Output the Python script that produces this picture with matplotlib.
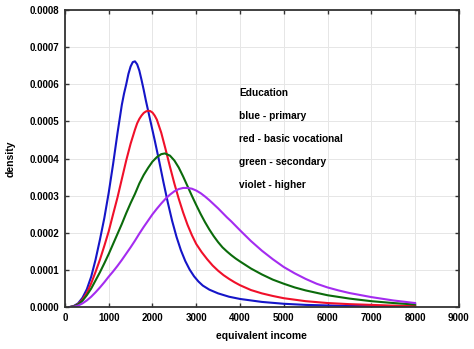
import matplotlib
matplotlib.use('Agg')
import matplotlib.pyplot as plt

plt.rcParams['font.family'] = ['Liberation Sans', 'DejaVu Sans']

# income grid and densities per education level
blue_x = [100, 200, 300, 400, 500, 600, 700, 800, 900, 1000, 1100, 1200, 1300, 1350, 1400,
          1450, 1500, 1550, 1600, 1650, 1700, 1750, 1800, 1850, 1950, 2050, 2150, 2250, 2350,
          2450, 2550, 2650, 2750, 2850, 2950, 3050, 3150, 3300, 3500, 3750, 4000, 4500, 5000,
          5500, 6500, 8000]
blue_y = [0, 0.000003, 0.000010, 0.000025, 0.000048, 0.000082, 0.000128, 0.000182, 0.000240,
          0.000308, 0.000385, 0.000468, 0.000545, 0.000575, 0.000600, 0.000628, 0.000648,
          0.000660, 0.000662, 0.000654, 0.000637, 0.000612, 0.000585, 0.000556, 0.000503,
          0.000450, 0.000395, 0.000337, 0.000282, 0.000232, 0.000189, 0.000153, 0.000124,
          0.000101, 0.000083, 0.000069, 0.000058, 0.000047, 0.000037, 0.000028, 0.000022,
          0.000014, 0.000009, 0.000006, 0.000003, 0.000001]

red_x = [100, 200, 300, 400, 500, 600, 700, 800, 900, 1000, 1100, 1200, 1300, 1400, 1500,
         1600, 1650, 1700, 1750, 1800, 1850, 1900, 1950, 2000, 2050, 2100, 2200, 2300, 2400,
         2500, 2600, 2700, 2800, 2900, 3000, 3125, 3250, 3375, 3500, 3625, 3750, 3875, 4000,
         4250, 4500, 4750, 5000, 5500, 6000, 6500, 7000, 7500, 8000]
red_y = [0, 0.000002, 0.000008, 0.000020, 0.000038, 0.000064, 0.000095, 0.000128, 0.000165,
         0.000204, 0.000250, 0.000295, 0.000345, 0.000395, 0.000440, 0.000478, 0.000495,
         0.000507, 0.000516, 0.000523, 0.000527, 0.000529, 0.000528, 0.000524, 0.000516,
         0.000505, 0.000470, 0.000425, 0.000378, 0.000333, 0.000292, 0.000255, 0.000222,
         0.000194, 0.000170, 0.000148, 0.000129, 0.000112, 0.000098, 0.000086, 0.000076,
         0.000067, 0.000059, 0.000046, 0.000037, 0.000030, 0.000024, 0.000016, 0.000011,
         0.000008, 0.000006, 0.000004, 0.000003]

green_x = [100, 200, 300, 400, 500, 600, 700, 800, 900, 1000, 1100, 1200, 1300, 1400, 1500,
           1600, 1700, 1800, 1900, 2000, 2100, 2200, 2285, 2400, 2500, 2600, 2700, 2800, 2900,
           3000, 3100, 3200, 3300, 3400, 3500, 3600, 3700, 3800, 3900, 4000, 4250, 4500, 4750,
           5000, 5250, 5500, 6000, 6500, 7000, 7500, 8000]
green_y = [0, 0.000002, 0.000007, 0.000017, 0.000032, 0.000050, 0.000072, 0.000094, 0.000118,
           0.000143, 0.000170, 0.000197, 0.000224, 0.000253, 0.000280, 0.000305, 0.000333,
           0.000356, 0.000375, 0.000392, 0.000404, 0.000412, 0.000414, 0.000408, 0.000395,
           0.000376, 0.000352, 0.000326, 0.000300, 0.000275, 0.000251, 0.000229, 0.000209,
           0.000191, 0.000175, 0.000161, 0.000150, 0.000140, 0.000131, 0.000123, 0.000104,
           0.000088, 0.000074, 0.000063, 0.000053, 0.000045, 0.000032, 0.000023, 0.000016,
           0.000011, 0.000007]

violet_x = [100, 200, 300, 400, 500, 600, 700, 800, 900, 1000, 1100, 1200, 1300, 1400, 1500,
            1600, 1700, 1800, 1900, 2000, 2100, 2200, 2300, 2400, 2500, 2600, 2700, 2800, 2900,
            3000, 3100, 3200, 3300, 3400, 3500, 3600, 3700, 3800, 3900, 4000, 4250, 4500, 4750,
            5000, 5250, 5500, 5750, 6000, 6250, 6500, 7000, 7500, 8000]
violet_y = [0, 0.000001, 0.000004, 0.000010, 0.000018, 0.000028, 0.000040, 0.000053, 0.000067,
            0.000082, 0.000096, 0.000111, 0.000127, 0.000144, 0.000161, 0.000179, 0.000198,
            0.000216, 0.000233, 0.000250, 0.000265, 0.000279, 0.000292, 0.000303, 0.000312,
            0.000318, 0.000321, 0.000321, 0.000319, 0.000314, 0.000307, 0.000298, 0.000288,
            0.000277, 0.000266, 0.000254, 0.000242, 0.000231, 0.000219, 0.000207, 0.000178,
            0.000152, 0.000129, 0.000108, 0.000091, 0.000076, 0.000063, 0.000053, 0.000045,
            0.000038, 0.000027, 0.000018, 0.000011]

legend_lines = ['Education', 'blue - primary', 'red - basic vocational',
                'green - secondary', 'violet - higher']

fig = plt.figure(figsize=(4.74, 3.49), dpi=100)
ax = fig.add_axes([0.137, 0.120, 0.831, 0.851])

ax.plot(blue_x, blue_y, color='#1515c8', lw=1.5)
ax.plot(red_x, red_y, color='#f0102a', lw=1.5)
ax.plot(green_x, green_y, color='#0b6b0b', lw=1.5)
ax.plot(violet_x, violet_y, color='#a42cf0', lw=1.5)

ax.set_xlim(0, 9000)
ax.set_ylim(0, 0.0008)
ax.set_xticks(range(0, 9001, 1000))
ax.set_yticks([i * 0.0001 for i in range(9)])
ax.set_yticklabels(['%.4f' % (i * 0.0001) for i in range(9)])
ax.grid(True, color='#e6e6e6', lw=0.7)
ax.set_axisbelow(True)

ax.tick_params(direction='in', length=3, width=1, top=True, right=True,
               labelsize=7, pad=4, colors='#333333', labelcolor='black')
for lab in ax.get_xticklabels() + ax.get_yticklabels():
    lab.set_fontweight('bold')
for sp in ax.spines.values():
    sp.set_linewidth(1.3)
    sp.set_color('#333333')

ax.set_xlabel('equivalent income', fontsize=7.5, fontweight='bold', labelpad=6)
ax.set_ylabel('density', fontsize=7.5, fontweight='bold', labelpad=10)

for i, txt in enumerate(legend_lines):
    ax.text(3980, 0.000578 - i * 0.0000625, txt, fontsize=7.3, fontweight='bold',
            va='center', ha='left')

fig.savefig('out.png', dpi=100)
